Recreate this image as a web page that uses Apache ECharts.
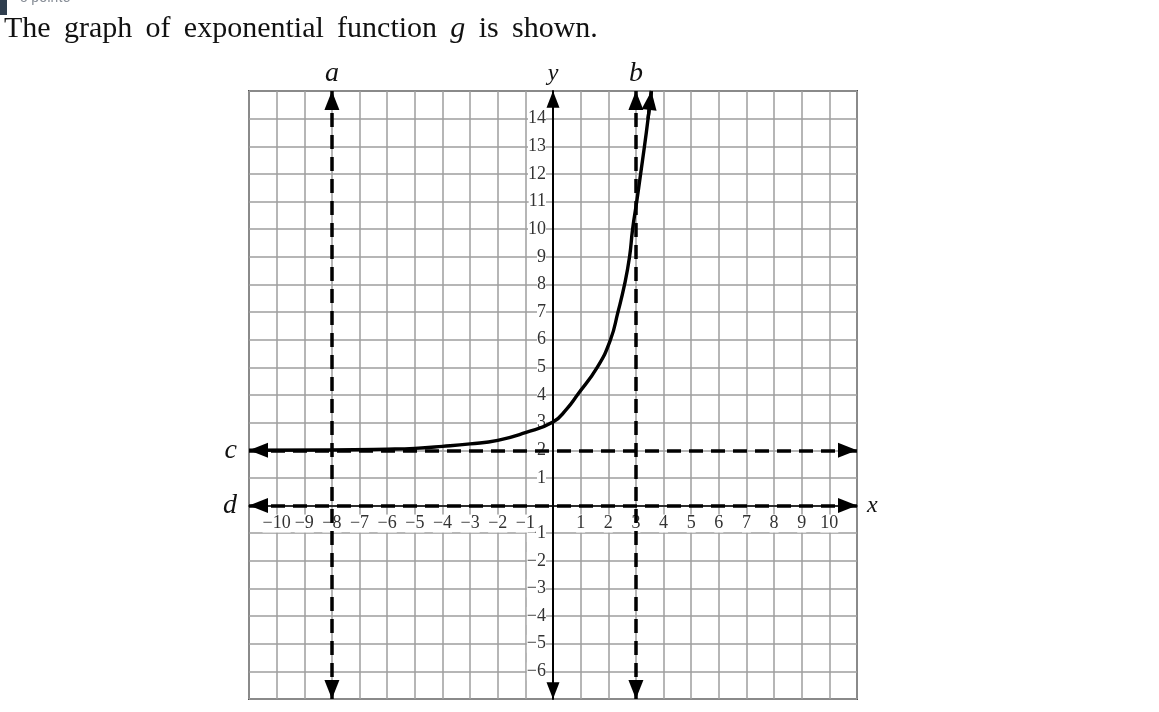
<!DOCTYPE html>
<html>
<head>
<meta charset="utf-8">
<script src="https://cdn.jsdelivr.net/npm/echarts@6/dist/echarts.min.js"></script>
<style>
html,body{margin:0;padding:0;background:#fff;}
#chart{width:1159px;height:712px;}
</style>
</head>
<body>
<div id="chart"></div>
<script>
// ---- data ----
const xMin = -11, xMax = 11, yMin = -7, yMax = 15;
const curveX = [-11, -8, -6, -5, -4, -3, -2, -1, 0, 0.5, 0.88, 1.6, 2.08, 2.35, 2.59, 2.77, 2.88, 3.03, 3.17, 3.31, 3.44, 3.56];
const curveY = [2.0, 2.01, 2.04, 2.07, 2.14, 2.23, 2.36, 2.64, 3.02, 3.5, 4, 5, 6, 7, 8, 9, 10, 11, 12, 13, 14, 15];
const vLineX = [-8, 3];
const vLineNames = ['a', 'b'];
const hLineY = [2, 0];
const hLineNames = ['c', 'd'];
const titleWords = ['The', 'graph', 'of', 'exponential', 'function', 'g', 'is', 'shown.'];
const titleItalic = ['g'];

const curveData = curveX.map((x, i) => [x, curveY[i]]);
const n = curveData.length;

const dashStyle = { color: '#000', width: 3.5, type: [14, 8] };
const serif = '"Liberation Serif", "DejaVu Serif", serif';
// triangle whose tip sits at the symbol centre (invisible point extends the box)
const arrowHead = 'path://M0,-18L0,-18M0,0L7,18L-7,18Z';
const arrowSize = [15, 38];

const markLines = [];
vLineX.forEach((x, i) => {
  markLines.push([
    { coord: [x, yMin], label: { show: true, position: 'end', distance: 3, formatter: vLineNames[i] } },
    { coord: [x, yMax] }
  ]);
});
hLineY.forEach((y, i) => {
  markLines.push([
    { coord: [xMax, y], label: { show: true, position: 'end', distance: 12, formatter: hLineNames[i] } },
    { coord: [xMin, y] }
  ]);
});

function fmt(v) {
  if (v === 0) return '';
  return String(v).replace('-', '\u2212');
}

const gridLeft = 249, gridRight = 302, gridTop = 91, gridBottom = 13;
const gridW = 1159 - gridLeft - gridRight;
const gridH = 712 - gridTop - gridBottom;
// axes are placed through the origin
const yAxisOffset = -gridW * (0 - xMin) / (xMax - xMin);
const xAxisOffset = -gridH * (0 - yMin) / (yMax - yMin);

const titleRich = titleWords.map(w => '{' + (titleItalic.includes(w) ? 'i' : 'n') + '|' + w + '}').join('{s| }');

const chart = echarts.init(document.getElementById('chart'), null, { renderer: 'canvas' });
chart.setOption({
  animation: false,
  backgroundColor: '#fff',
  title: {
    left: 4, top: 14, padding: 0,
    text: titleRich,
    textStyle: {
      fontWeight: 'normal',
      rich: {
        n: { fontFamily: serif, fontSize: 30, fontWeight: 'normal', color: '#111' },
        i: { fontFamily: serif, fontSize: 30, fontWeight: 'normal', fontStyle: 'italic', color: '#111' },
        s: { fontFamily: serif, fontSize: 30, width: 13.3 }
      }
    }
  },
  graphic: [
    { type: 'rect', left: 0, top: 0, shape: { width: 7, height: 15 }, style: { fill: '#2f3e4e' } },
    { type: 'text', left: 20, top: -9, style: { text: '3 points', fontSize: 14, fill: '#8a9099', fontFamily: 'Roboto' } }
  ],
  grid: {
    left: gridLeft, right: gridRight, top: gridTop, bottom: gridBottom,
    show: true, borderColor: '#505050', borderWidth: 2, backgroundColor: 'transparent'
  },
  xAxis: {
    type: 'value', min: xMin, max: xMax, interval: 1,
    offset: xAxisOffset,
    name: 'x', nameLocation: 'end', nameGap: 10,
    nameTextStyle: { fontFamily: serif, fontSize: 24, fontStyle: 'italic', color: '#111', verticalAlign: 'middle' },
    axisLine: { onZero: false, lineStyle: { color: '#000', width: 1.5 } },
    axisTick: { show: false },
    splitLine: { show: true, lineStyle: { color: '#9e9e9e', width: 1.5 } },
    axisLabel: {
      margin: 9, fontFamily: serif, fontSize: 18, color: '#333',
      backgroundColor: '#fff', padding: [0, 0],
      formatter: v => (Math.abs(v) >= 11 ? '' : fmt(v))
    }
  },
  yAxis: {
    type: 'value', min: yMin, max: yMax, interval: 1,
    offset: yAxisOffset,
    name: 'y', nameLocation: 'end', nameGap: 5,
    nameTextStyle: { fontFamily: serif, fontSize: 24, fontStyle: 'italic', color: '#111' },
    axisLine: { onZero: false, symbol: [arrowHead, arrowHead], symbolSize: [13, 34], lineStyle: { color: '#000', width: 2 } },
    axisTick: { show: false },
    splitLine: { show: true, lineStyle: { color: '#9e9e9e', width: 1.5 } },
    axisLabel: {
      margin: 7, fontFamily: serif, fontSize: 18, color: '#333',
      backgroundColor: '#fff', padding: [0, 0],
      formatter: v => (v <= -7 || v >= 15 ? '' : fmt(v))
    }
  },
  series: [
    {
      type: 'line', data: [], silent: true,
      markLine: {
        silent: true, animation: false,
        symbol: [arrowHead, arrowHead], symbolSize: arrowSize,
        lineStyle: dashStyle,
        label: { show: true, fontFamily: serif, fontSize: 28, fontStyle: 'italic', color: '#111' },
        data: markLines
      }
    },
    {
      type: 'line', data: curveData, smooth: 0.5, showSymbol: false, symbol: 'none',
      lineStyle: { color: '#000', width: 3.4 },
      markLine: {
        silent: true, animation: false,
        symbol: ['none', arrowHead], symbolSize: arrowSize,
        lineStyle: { color: '#000', width: 3.4, type: 'solid' },
        label: { show: false },
        data: [[{ coord: curveData[n - 2] }, { coord: curveData[n - 1] }]]
      }
    }
  ]
});
</script>
</body>
</html>
